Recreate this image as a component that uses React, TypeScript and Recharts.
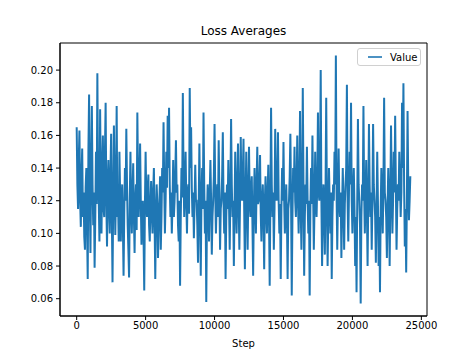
import React from 'react';
import { LineChart, Line, XAxis, YAxis, ReferenceArea, Label } from 'recharts';

const STEP_SIZE = 50;

const lossValues: number[] = [
  // 0 - 950
  0.165, 0.13, 0.115, 0.145, 0.163, 0.12, 0.104, 0.135, 0.152, 0.11, 0.125, 0.098, 0.09, 0.128, 0.14, 0.105, 0.072, 0.15, 0.185, 0.12,
  // 1000 - 1950
  0.088, 0.14, 0.178, 0.13, 0.105, 0.125, 0.079, 0.11, 0.15, 0.118, 0.198, 0.135, 0.12, 0.095, 0.176, 0.13, 0.10, 0.14, 0.16, 0.115,
  // 2000 - 2950
  0.11, 0.15, 0.18, 0.12, 0.092, 0.13, 0.145, 0.115, 0.10, 0.138, 0.161, 0.11, 0.07, 0.12, 0.166, 0.13, 0.099, 0.125, 0.178, 0.11,
  // 3000 - 3950
  0.12, 0.095, 0.15, 0.125, 0.095, 0.118, 0.13, 0.105, 0.074, 0.112, 0.14, 0.12, 0.164, 0.13, 0.105, 0.09, 0.073, 0.12, 0.15, 0.115,
  // 4000 - 4950
  0.10, 0.125, 0.143, 0.11, 0.088, 0.12, 0.13, 0.102, 0.174, 0.135, 0.11, 0.13, 0.155, 0.12, 0.093, 0.115, 0.12, 0.098, 0.065, 0.118,
  // 5000 - 5950
  0.15, 0.12, 0.11, 0.128, 0.136, 0.105, 0.095, 0.118, 0.132, 0.112, 0.10, 0.125, 0.14, 0.108, 0.072, 0.11, 0.13, 0.118, 0.085, 0.105,
  // 6000 - 6950
  0.12, 0.135, 0.09, 0.11, 0.14, 0.125, 0.168, 0.13, 0.10, 0.12, 0.15, 0.128, 0.172, 0.14, 0.177, 0.13, 0.11, 0.125, 0.10, 0.118,
  // 7000 - 7950
  0.145, 0.11, 0.12, 0.135, 0.157, 0.125, 0.13, 0.105, 0.095, 0.12, 0.068, 0.11, 0.14, 0.122, 0.186, 0.135, 0.11, 0.128, 0.15, 0.12,
  // 8000 - 8950
  0.10, 0.125, 0.13, 0.112, 0.189, 0.14, 0.165, 0.128, 0.11, 0.125, 0.097, 0.118, 0.142, 0.12, 0.12, 0.105, 0.082, 0.115, 0.155, 0.118,
  // 9000 - 9950
  0.074, 0.12, 0.14, 0.115, 0.174, 0.13, 0.10, 0.12, 0.058, 0.11, 0.13, 0.118, 0.095, 0.125, 0.145, 0.12, 0.087, 0.11, 0.12, 0.135,
  // 10000 - 10950
  0.167, 0.125, 0.10, 0.118, 0.13, 0.11, 0.157, 0.125, 0.09, 0.115, 0.12, 0.135, 0.162, 0.12, 0.10, 0.125, 0.072, 0.11, 0.13, 0.115,
  // 11000 - 11950
  0.145, 0.118, 0.09, 0.125, 0.170, 0.13, 0.11, 0.12, 0.08, 0.115, 0.15, 0.12, 0.10, 0.128, 0.155, 0.118, 0.09, 0.12, 0.159, 0.125,
  // 12000 - 12950
  0.12, 0.135, 0.158, 0.115, 0.078, 0.12, 0.15, 0.118, 0.09, 0.125, 0.153, 0.12, 0.11, 0.128, 0.135, 0.105, 0.074, 0.115, 0.14, 0.12,
  // 13000 - 13950
  0.10, 0.13, 0.153, 0.118, 0.12, 0.13, 0.148, 0.112, 0.095, 0.12, 0.13, 0.11, 0.078, 0.12, 0.135, 0.115, 0.10, 0.125, 0.142, 0.11,
  // 14000 - 14950
  0.068, 0.12, 0.177, 0.13, 0.11, 0.125, 0.09, 0.115, 0.164, 0.125, 0.12, 0.13, 0.162, 0.12, 0.10, 0.118, 0.072, 0.115, 0.14, 0.12,
  // 15000 - 15950
  0.156, 0.12, 0.10, 0.115, 0.13, 0.11, 0.072, 0.115, 0.12, 0.135, 0.161, 0.12, 0.062, 0.11, 0.14, 0.125, 0.153, 0.12, 0.11, 0.13,
  // 16000 - 16950
  0.160, 0.12, 0.10, 0.13, 0.175, 0.115, 0.09, 0.125, 0.189, 0.13, 0.074, 0.11, 0.13, 0.118, 0.153, 0.12, 0.10, 0.12, 0.062, 0.115,
  // 17000 - 17950
  0.14, 0.118, 0.160, 0.125, 0.09, 0.115, 0.15, 0.12, 0.11, 0.13, 0.174, 0.125, 0.12, 0.14, 0.200, 0.12, 0.08, 0.115, 0.13, 0.11,
  // 18000 - 18950
  0.087, 0.125, 0.183, 0.12, 0.08, 0.11, 0.14, 0.12, 0.10, 0.125, 0.072, 0.11, 0.13, 0.12, 0.15, 0.13, 0.209, 0.125, 0.09, 0.12,
  // 19000 - 19950
  0.152, 0.12, 0.11, 0.125, 0.085, 0.115, 0.14, 0.12, 0.09, 0.118, 0.13, 0.14, 0.191, 0.12, 0.095, 0.125, 0.15, 0.13, 0.180, 0.12,
  // 20000 - 20950
  0.10, 0.125, 0.14, 0.115, 0.08, 0.11, 0.064, 0.12, 0.170, 0.13, 0.12, 0.105, 0.057, 0.11, 0.13, 0.12, 0.178, 0.125, 0.10, 0.12,
  // 21000 - 21950
  0.145, 0.115, 0.08, 0.12, 0.167, 0.13, 0.11, 0.125, 0.09, 0.12, 0.167, 0.13, 0.12, 0.11, 0.082, 0.115, 0.15, 0.12, 0.08, 0.11,
  // 22000 - 22950
  0.064, 0.115, 0.14, 0.12, 0.10, 0.13, 0.183, 0.125, 0.12, 0.11, 0.085, 0.115, 0.14, 0.12, 0.08, 0.12, 0.166, 0.13, 0.10, 0.12,
  // 23000 - 23950
  0.15, 0.125, 0.172, 0.13, 0.09, 0.115, 0.13, 0.12, 0.15, 0.13, 0.11, 0.125, 0.18, 0.14, 0.192, 0.13, 0.092, 0.115, 0.076, 0.12,
  // 24000 - 24200
  0.175, 0.13, 0.108, 0.12, 0.135,
];

const xTicks = [0, 5000, 10000, 15000, 20000, 25000];
const yTicks = [0.06, 0.08, 0.1, 0.12, 0.14, 0.16, 0.18, 0.2];
const xDomain: [number, number] = [-1210, 25410];
const yDomain: [number, number] = [0.0494, 0.2166];
const seriesName = 'Value';
const chartTitle = 'Loss Averages';
const xLabel = 'Step';

const data = lossValues.map((v, i) => ({ step: i * STEP_SIZE, value: v }));

const FONT = 'DejaVu Sans, sans-serif';
const BLUE = '#1f77b4';

export default function App() {
  return (
    <div style={{ position: 'absolute', left: 0, top: 0, width: 474, height: 355, background: '#fff' }}>
      <div
        style={{
          position: 'absolute',
          left: 0,
          width: 487,
          top: 24,
          textAlign: 'center',
          fontFamily: FONT,
          fontSize: 12,
          color: '#000',
        }}
      >
        {chartTitle}
      </div>
      <LineChart
        width={474}
        height={355}
        data={data}
        margin={{ top: 43, right: 47, bottom: 0, left: 0 }}
      >
        <XAxis
          dataKey="step"
          type="number"
          domain={xDomain}
          ticks={xTicks}
          allowDataOverflow
          height={39}
          tickSize={4}
          tickMargin={2}
          stroke="#000"
          tick={{ fill: '#000', fontFamily: FONT, fontSize: 10 }}
        >
          <Label value={xLabel} position="insideBottom" offset={8} fill="#000" fontFamily={FONT} fontSize={10} />
        </XAxis>
        <YAxis
          type="number"
          domain={yDomain}
          ticks={yTicks}
          allowDataOverflow
          width={60}
          tickSize={4}
          tickMargin={3}
          stroke="#000"
          tickFormatter={(v: number) => v.toFixed(2)}
          tick={{ fill: '#000', fontFamily: FONT, fontSize: 10 }}
        />
        <ReferenceArea
          x1={xDomain[0]}
          x2={xDomain[1]}
          y1={yDomain[0]}
          y2={yDomain[1]}
          fill="none"
          stroke="#000"
          strokeWidth={1}
          ifOverflow="visible"
        />
        <Line
          type="linear"
          dataKey="value"
          stroke={BLUE}
          strokeWidth={2}
          dot={false}
          isAnimationActive={false}
          name={seriesName}
        />
      </LineChart>
      <div
        style={{
          position: 'absolute',
          left: 357,
          top: 48,
          width: 64,
          height: 18,
          border: '1px solid #d0d0d0',
          borderRadius: 3,
          background: 'rgba(255,255,255,0.8)',
          boxSizing: 'border-box',
          display: 'flex',
          alignItems: 'center',
          fontFamily: FONT,
          fontSize: 10,
          color: '#000',
        }}
      >
        <svg width={28} height={10}>
          <line x1={10} x2={24} y1={5} y2={5} stroke={BLUE} strokeWidth={1.6} />
        </svg>
        <span style={{ marginLeft: 4 }}>{seriesName}</span>
      </div>
    </div>
  );
}
